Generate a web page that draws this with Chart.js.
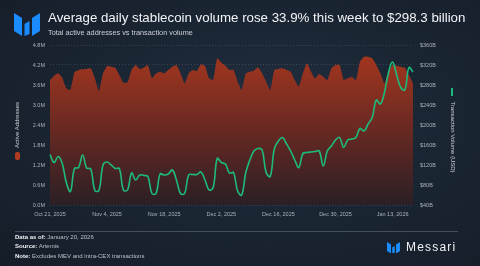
<!DOCTYPE html>
<html>
<head>
<meta charset="utf-8">
<script src="https://cdn.jsdelivr.net/npm/chart.js@4.4.1/dist/chart.umd.min.js"></script>
<style>
  html, body { margin: 0; padding: 0; }
  body {
    width: 480px; height: 266px; overflow: hidden; position: relative;
    background: radial-gradient(ellipse at 55% 45%, #223042 0%, #1b2634 45%, #151d28 100%);
    font-family: "Liberation Sans", Arial, sans-serif;
  }
  #wrap { position: absolute; left: 0; top: 0; width: 480px; height: 266px; }
  .abs { position: absolute; white-space: nowrap; }
  #title { left: 48px; top: 9.5px; font-size: 13.3px; color: #f2f4f7; }
  #sub { left: 48px; top: 28px; font-size: 7.3px; color: #c9ced6; }
  #ytl { left: 17px; top: 125px; font-size: 6px; color: #c9ced6; transform: translate(-50%, -50%) rotate(-90deg); }
  #ytr { left: 453px; top: 137px; font-size: 6px; color: #c9ced6; transform: translate(-50%, -50%) rotate(90deg); }
  #mkl { left: 15px; top: 152px; width: 5px; height: 8px; background: #b03a22; border-radius: 2px; }
  #mkr { left: 451px; top: 88px; width: 2px; height: 8px; background: #1dbb7b; }
  #sep { left: 15px; top: 231px; width: 443px; height: 1px; background: rgba(200,210,220,0.25); }
  .foot { left: 15px; font-size: 6px; color: #b9c0c9; }
  .foot b { color: #eef1f5; }
  #brand { left: 406px; top: 240px; font-size: 12px; letter-spacing: 1.2px; color: #f2f4f7; }
</style>
</head>
<body>
<div id="wrap"><canvas id="c" width="480" height="266"></canvas></div>

<svg class="abs" style="left:14px;top:13px" width="26" height="23" viewBox="0 0 26 23">
  <polygon points="0,0 8,5 8,23 0,18" fill="#1a8cff"/>
  <polygon points="10.5,11 15.5,8 15.5,21 10.5,23" fill="#1a8cff"/>
  <polygon points="18,5 26,0 26,18 18,23" fill="#1a8cff"/>
</svg>
<div class="abs" id="title">Average daily stablecoin volume rose 33.9% this week to $298.3 billion</div>
<div class="abs" id="sub">Total active addresses vs transaction volume</div>
<div class="abs" id="ytl">Active Addresses</div>
<div class="abs" id="mkl"></div>
<div class="abs" id="ytr">Transaction Volume (USD)</div>
<div class="abs" id="mkr"></div>
<div class="abs" id="sep"></div>
<div class="abs foot" style="top:233.5px"><b>Data as of:</b> January 20, 2026</div>
<div class="abs foot" style="top:243px"><b>Source:</b> Artemis</div>
<div class="abs foot" style="top:252.5px"><b>Note:</b> Excludes MEV and intra-CEX transactions</div>
<svg class="abs" style="left:387px;top:241.5px" width="13" height="11.5" viewBox="0 0 26 23" preserveAspectRatio="none">
  <polygon points="0,0 8,5 8,23 0,18" fill="#1a8cff"/>
  <polygon points="10.5,11 15.5,8 15.5,21 10.5,23" fill="#1a8cff"/>
  <polygon points="18,5 26,0 26,18 18,23" fill="#1a8cff"/>
</svg>
<div class="abs" id="brand">Messari</div>

<script>
// Datos
const startDate = new Date(2025, 9, 21);
const xTickLabels = ["Oct 21, 2025", "Nov 4, 2025", "Nov 18, 2025", "Dec 2, 2025", "Dec 16, 2025", "Dec 30, 2025", "Jan 13, 2026"];
const xTickIndex = [0, 14, 28, 42, 56, 70, 84];
const leftTicks = [0, 0.6, 1.2, 1.8, 2.4, 3.0, 3.6, 4.2, 4.8];
const rightTicks = [40, 80, 120, 160, 200, 240, 280, 320, 360];

// Active addresses (M)
const activeAddresses = [
  3.75, 3.88, 3.95, 3.82, 3.50, 3.45, 3.98, 4.05, 4.07, 4.08,
  4.10, 3.80, 3.42, 3.95, 4.17, 4.15, 4.12, 3.90, 3.67, 3.68,
  4.05, 4.20, 4.08, 4.12, 4.20, 3.80, 3.95, 4.00, 3.95, 4.05,
  4.15, 4.20, 3.95, 3.65, 3.95, 4.05, 4.02, 4.22, 4.17, 3.80,
  3.75, 4.40, 4.27, 4.18, 4.05, 4.05, 3.70, 3.45, 3.95, 4.00,
  4.03, 4.13, 3.95, 3.70, 3.45, 4.05, 4.08, 4.10, 4.05, 4.00,
  3.75, 3.55, 3.95, 4.25, 4.00, 3.80, 3.93, 3.85, 3.75, 4.10,
  4.20, 4.20, 3.75, 3.80, 3.85, 3.75, 4.30, 4.45, 4.45, 4.40,
  4.20, 3.95, 3.65, 4.00, 4.20, 4.18, 4.15, 4.12, 3.90, 3.65
];

// Transaction volume ($B)
const txVolume = [
  141, 125, 137, 123, 85, 67, 113, 115, 140, 114,
  112, 69, 69, 120, 126, 120, 113, 113, 70, 70,
  104, 90, 100, 99, 97, 63, 63, 102, 100, 102,
  110, 90, 63, 63, 100, 101, 101, 106, 90, 70,
  75, 133, 125, 122, 104, 105, 68, 60, 105, 130,
  148, 153, 150, 105, 97, 152, 168, 175, 162, 148,
  130, 115, 143, 145, 146, 147, 148, 118, 148, 158,
  170, 175, 155, 170, 172, 175, 193, 188, 202, 215,
  250, 242, 265, 305, 326, 300, 275, 270, 315, 306
];

const days = activeAddresses.map((_, i) => {
  const d = new Date(startDate);
  d.setDate(d.getDate() + i);
  return d.toDateString();
});

const tickFont = { family: "Liberation Sans, Arial, sans-serif", size: 5.5 };
const tickColor = "#aab2bc";

function rellenoRojo(ctx){
  const area = ctx.chart.chartArea;
  if(!area) return "#8a2f20";
  const g = ctx.chart.ctx.createLinearGradient(0, area.top + 10, 0, area.bottom);
  g.addColorStop(0, "#a3361f");
  g.addColorStop(0.45, "#6e2a22");
  g.addColorStop(1, "#2b1f25");
  return g;
}

new Chart(document.getElementById("c"), {
  type: "line",
  data: {
    labels: days,
    datasets: [
      {
        data: txVolume,
        yAxisID: "y1",
        borderColor: "#1dbb7b",
        borderWidth: 1.6,
        pointRadius: 0,
        tension: 0.4,
        fill: false,
        order: 0
      },
      {
        data: activeAddresses,
        yAxisID: "y",
        borderWidth: 0,
        backgroundColor: rellenoRojo,
        pointRadius: 0,
        tension: 0.15,
        fill: "origin",
        order: 1
      }
    ]
  },
  options: {
    responsive: false,
    animation: false,
    layout: { padding: { left: 0, right: 0, top: 45, bottom: 47 } },
    plugins: { legend: { display: false }, tooltip: { enabled: false } },
    scales: {
      x: {
        grid: { display: false, drawTicks: false },
        border: { display: false },
        afterFit: s => { s.height = 14; },
        afterBuildTicks: s => { s.ticks = xTickIndex.map(v => ({ value: v })); },
        ticks: {
          autoSkip: false, maxRotation: 0, padding: 6,
          color: tickColor, font: tickFont,
          callback: v => xTickLabels[xTickIndex.indexOf(v)]
        }
      },
      y: {
        position: "left",
        min: 0, max: 4.8,
        afterFit: s => { s.width = 50; },
        afterBuildTicks: s => { s.ticks = leftTicks.map(v => ({ value: v })); },
        grid: { color: "rgba(210,220,235,0.16)", drawTicks: false },
        border: { display: false, dash: [1, 2] },
        ticks: { padding: 5, color: tickColor, font: tickFont, callback: v => v.toFixed(1) + "M" }
      },
      y1: {
        position: "right",
        min: 40, max: 360,
        afterFit: s => { s.width = 67; },
        afterBuildTicks: s => { s.ticks = rightTicks.map(v => ({ value: v })); },
        grid: { display: false, drawTicks: false },
        border: { display: false },
        ticks: { padding: 7, color: tickColor, font: tickFont, callback: v => "$" + v + "B" }
      }
    }
  }
});
</script>
</body>
</html>
